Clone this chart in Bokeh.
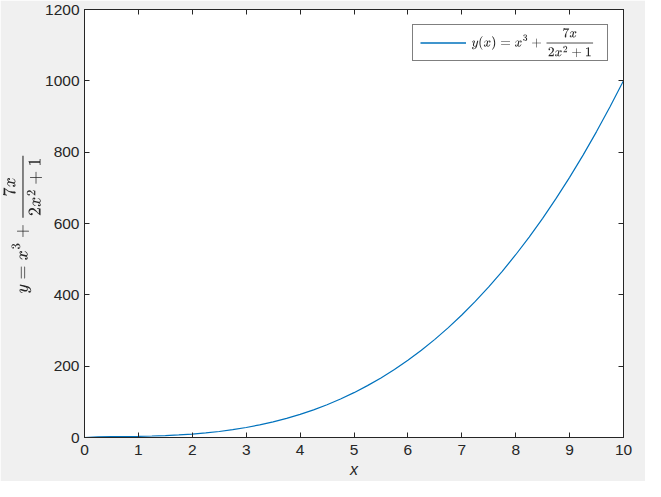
from bokeh.plotting import figure
from bokeh.models import LinearAxis, Range1d, FixedTicker, Legend, LegendItem, Label
from bokeh.embed import file_html
from bokeh.resources import INLINE

# values
x_vals = [0, 0.25, 0.5, 0.75, 1, 1.25, 1.5, 1.75, 2, 2.25, 2.5, 2.75, 3, 3.25, 3.5, 3.75,
          4, 4.25, 4.5, 4.75, 5, 5.25, 5.5, 5.75, 6, 6.25, 6.5, 6.75, 7, 7.25, 7.5, 7.75,
          8, 8.25, 8.5, 8.75, 9, 9.25, 9.5, 9.75, 10]
y_vals = [0, 1.6, 2.5, 2.6, 3.3, 4.2, 5.4, 7.3, 9.6, 12.7, 16.8, 21.9, 28.1, 35.5, 43.9, 53.7,
          64.9, 77.6, 91.9, 107.9, 125.7, 145.4, 167.0, 190.7, 216.6, 244.7, 275.2, 308.1,
          343.5, 381.6, 422.3, 465.9, 512.4, 562.0, 614.5, 670.3, 729.4, 791.8, 857.7, 927.2, 1000.3]
x_ticks = [0, 1, 2, 3, 4, 5, 6, 7, 8, 9, 10]
y_ticks = [0, 200, 400, 600, 800, 1000, 1200]

AX = "#262626"
FONT = "Liberation Sans"
BLUE = "#0072BD"

p = figure(width=645, height=481, output_backend="svg", toolbar_location=None,
           x_range=Range1d(0, 10), y_range=Range1d(0, 1200),
           x_axis_location=None, y_axis_location=None,
           min_border_left=81, min_border_right=22, min_border_top=9, min_border_bottom=44)
p.background_fill_color = "white"
p.border_fill_color = "#f0f0f0"
p.outline_line_color = AX
p.grid.visible = False

def style(ax, labels=True):
    ax.major_tick_in = 5
    ax.major_tick_out = 0
    ax.minor_tick_line_color = None
    ax.axis_line_color = AX
    ax.major_tick_line_color = AX
    ax.major_label_text_color = AX
    ax.major_label_text_font = FONT
    ax.major_label_text_font_size = "15.5px"
    if not labels:
        ax.major_label_text_font_size = "0px"
        ax.major_label_text_color = None

bx = LinearAxis(ticker=FixedTicker(ticks=x_ticks), axis_label="x")
style(bx)
bx.major_label_standoff = 7
bx.axis_label_text_font = FONT
bx.axis_label_text_font_style = "italic"
bx.axis_label_text_font_size = "16px"
bx.axis_label_text_color = AX
bx.axis_label_standoff = 3
p.add_layout(bx, "below")

ly = LinearAxis(ticker=FixedTicker(ticks=y_ticks), axis_label=r"$$y = x^3 + \frac{7x}{2x^2+1}$$")
style(ly)
ly.major_label_standoff = 5
ly.axis_label_text_font_size = "14px"
ly.axis_label_text_color = AX
ly.axis_label_standoff = 0
p.add_layout(ly, "left")

tx = LinearAxis(ticker=FixedTicker(ticks=x_ticks))
style(tx, labels=False)
p.add_layout(tx, "above")
ry = LinearAxis(ticker=FixedTicker(ticks=y_ticks))
style(ry, labels=False)
p.add_layout(ry, "right")

r = p.line(x_vals, y_vals, line_color=BLUE, line_width=1.2)
# legend sample renderer (single point: draws nothing on the plot itself)
sample = p.line(x_vals[:1], y_vals[:1], line_color=BLUE, line_width=1.5)

legend = Legend(items=[LegendItem(label=" ", renderers=[sample])], location="top_right",
                margin=15, padding=7, glyph_width=46, glyph_height=21,
                label_standoff=4, label_width=130, label_height=21,
                border_line_color="#000000", background_fill_alpha=0.0,
                label_text_font_size="10px", label_text_color=AX)
p.add_layout(legend)

lab = Label(x=7.18, y=1107, text=r"$$y(x) = x^3 + \frac{7x}{2x^2+1}$$",
            text_baseline="middle", text_align="left", text_font_size="11.5px",
            text_color=AX, level="overlay")
p.add_layout(lab)

open("out.html", "w").write(file_html(p, INLINE))
